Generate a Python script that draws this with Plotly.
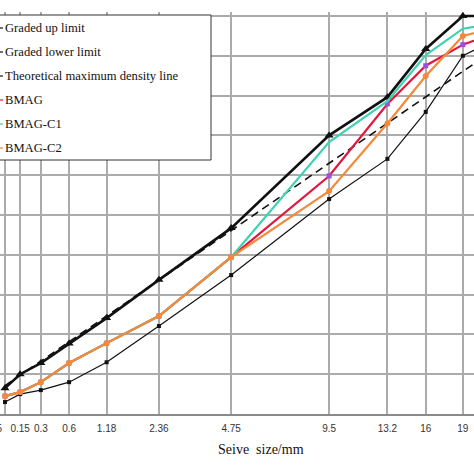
import plotly.graph_objects as go

sieve = [0.075, 0.15, 0.3, 0.6, 1.18, 2.36, 4.75, 9.5, 13.2, 16, 19, 26.5]
tick_labels = ["", "0.15", "0.3", "0.6", "1.18", "2.36", "4.75", "9.5", "13.2", "16", "19", "26.5"]
first_label = "0.075"

up_limit = [6.5, 10.0, 12.8, 17.7, 24.1, 33.7, 46.7, 70.0, 79.6, 91.7, 100, 100]
low_limit = [3.0, 5.0, 6.0, 8.0, 13.0, 22.1, 34.9, 54.0, 64.1, 75.9, 90.0, 100]
max_density = [7.1, 9.7, 13.2, 18.1, 24.6, 33.7, 46.1, 63.0, 73.1, 79.8, 86.1, 100]
bmag = [4.5, 5.5, 8.0, 12.8, 17.8, 24.6, 39.4, 59.8, 77.9, 87.5, 92.8, 100]
bmag_c1 = [4.5, 5.5, 8.0, 12.8, 17.8, 24.6, 39.4, 68.3, 78.6, 90.2, 96.8, 100]
bmag_c2 = [4.5, 5.5, 8.0, 12.8, 17.8, 24.6, 39.4, 56.0, 73.0, 84.9, 95.0, 100]

legend_names = ["Graded up limit", "Graded lower limit", "Theoretical maximum density line",
                "BMAG", "BMAG-C1", "BMAG-C2"]

POW = 0.45
xt = [s ** POW for s in sieve]

W, H = 474, 474
MT, MB = 12, 60
PH = H - MT - MB

fig = go.Figure()

styles = [
    dict(color="#111111", width=2.6, dash="solid", msym="triangle-up", msize=8, mcolor="#111111"),
    dict(color="#111111", width=1.2, dash="solid", msym="square", msize=4, mcolor="#111111"),
    dict(color="#111111", width=1.6, dash="8px,5px", msym=None, msize=0, mcolor=None),
    dict(color="#E3173E", width=2.2, dash="solid", msym="square", msize=5, mcolor="#9B4DE8"),
    dict(color="#3FD2B2", width=2.2, dash="solid", msym=None, msize=0, mcolor=None),
    dict(color="#F28A3A", width=2.2, dash="solid", msym="circle", msize=6, mcolor="#F28A3A"),
]
series = [up_limit, low_limit, max_density, bmag, bmag_c1, bmag_c2]

for name, y, st in zip(legend_names, series, styles):
    fig.add_trace(go.Scatter(
        x=xt, y=y, name=name,
        mode="lines+markers" if st["msym"] else "lines",
        line=dict(color=st["color"], width=st["width"], dash=st["dash"]),
        marker=dict(symbol=st["msym"] or "circle", size=st["msize"], color=st["mcolor"] or st["color"]),
        cliponaxis=False, showlegend=False,
    ))

px_per = 132.7
x0 = 0.075 ** POW - 5 / px_per
x1 = 0.075 ** POW + 469 / px_per

def py(pix):
    return (H - MB - pix) / PH

def pxx(pix):
    return pix / W

shapes = [dict(type="rect", xref="paper", yref="paper",
               x0=pxx(-5), x1=pxx(211), y0=py(160), y1=py(15),
               fillcolor="white", line=dict(color="#333333", width=1), layer="above")]
annotations = []
for i, (name, st) in enumerate(zip(legend_names, styles)):
    yy = 28 + 24 * i
    shapes.append(dict(type="line", xref="paper", yref="paper",
                       x0=pxx(-2), x1=pxx(3), y0=py(yy), y1=py(yy),
                       line=dict(color=st["color"], width=1.2), layer="above"))
    annotations.append(dict(
        text=name, xref="paper", yref="paper", x=pxx(3), y=py(yy),
        xanchor="left", yanchor="middle", showarrow=False,
        font=dict(family="Liberation Serif", size=12.6, color="#111111"),
    ))

# first tick label, shifted left of its gridline as in the source figure
annotations.append(dict(
    text=first_label, xref="paper", yref="paper", x=pxx(4), y=py(428),
    xanchor="right", yanchor="middle", showarrow=False,
    font=dict(family="Liberation Sans", size=10, color="#333333"),
))

annotations.append(dict(
    text="Seive\u00a0\u00a0size/mm", xref="paper", yref="paper",
    x=261 / W, y=py(449), xanchor="center", yanchor="middle",
    showarrow=False,
    font=dict(family="Liberation Serif", size=14, color="#111111"),
))

fig.update_layout(
    template="none",
    width=W, height=H,
    margin=dict(l=0, r=0, t=MT, b=MB, pad=0),
    paper_bgcolor="white", plot_bgcolor="white",
    showlegend=False,
    xaxis=dict(
        range=[x0, x1], automargin=False,
        tickmode="array", tickvals=xt, ticktext=tick_labels, tickangle=0,
        showgrid=True, gridcolor="#ABABAB", gridwidth=1.5,
        showline=True, linecolor="#8A8A8A", linewidth=1.5,
        ticks="", ticklen=0, zeroline=False,
        tickfont=dict(family="Liberation Sans", size=10, color="#333333"),
        ticklabelstandoff=4,
    ),
    yaxis=dict(
        range=[0, 101], automargin=False,
        tickmode="array", tickvals=list(range(0, 101, 10)),
        showgrid=True, gridcolor="#ABABAB", gridwidth=1.5,
        showticklabels=False, ticks="", zeroline=False, showline=False,
    ),
    shapes=shapes,
    annotations=annotations,
)

fig.write_html("out.html")
